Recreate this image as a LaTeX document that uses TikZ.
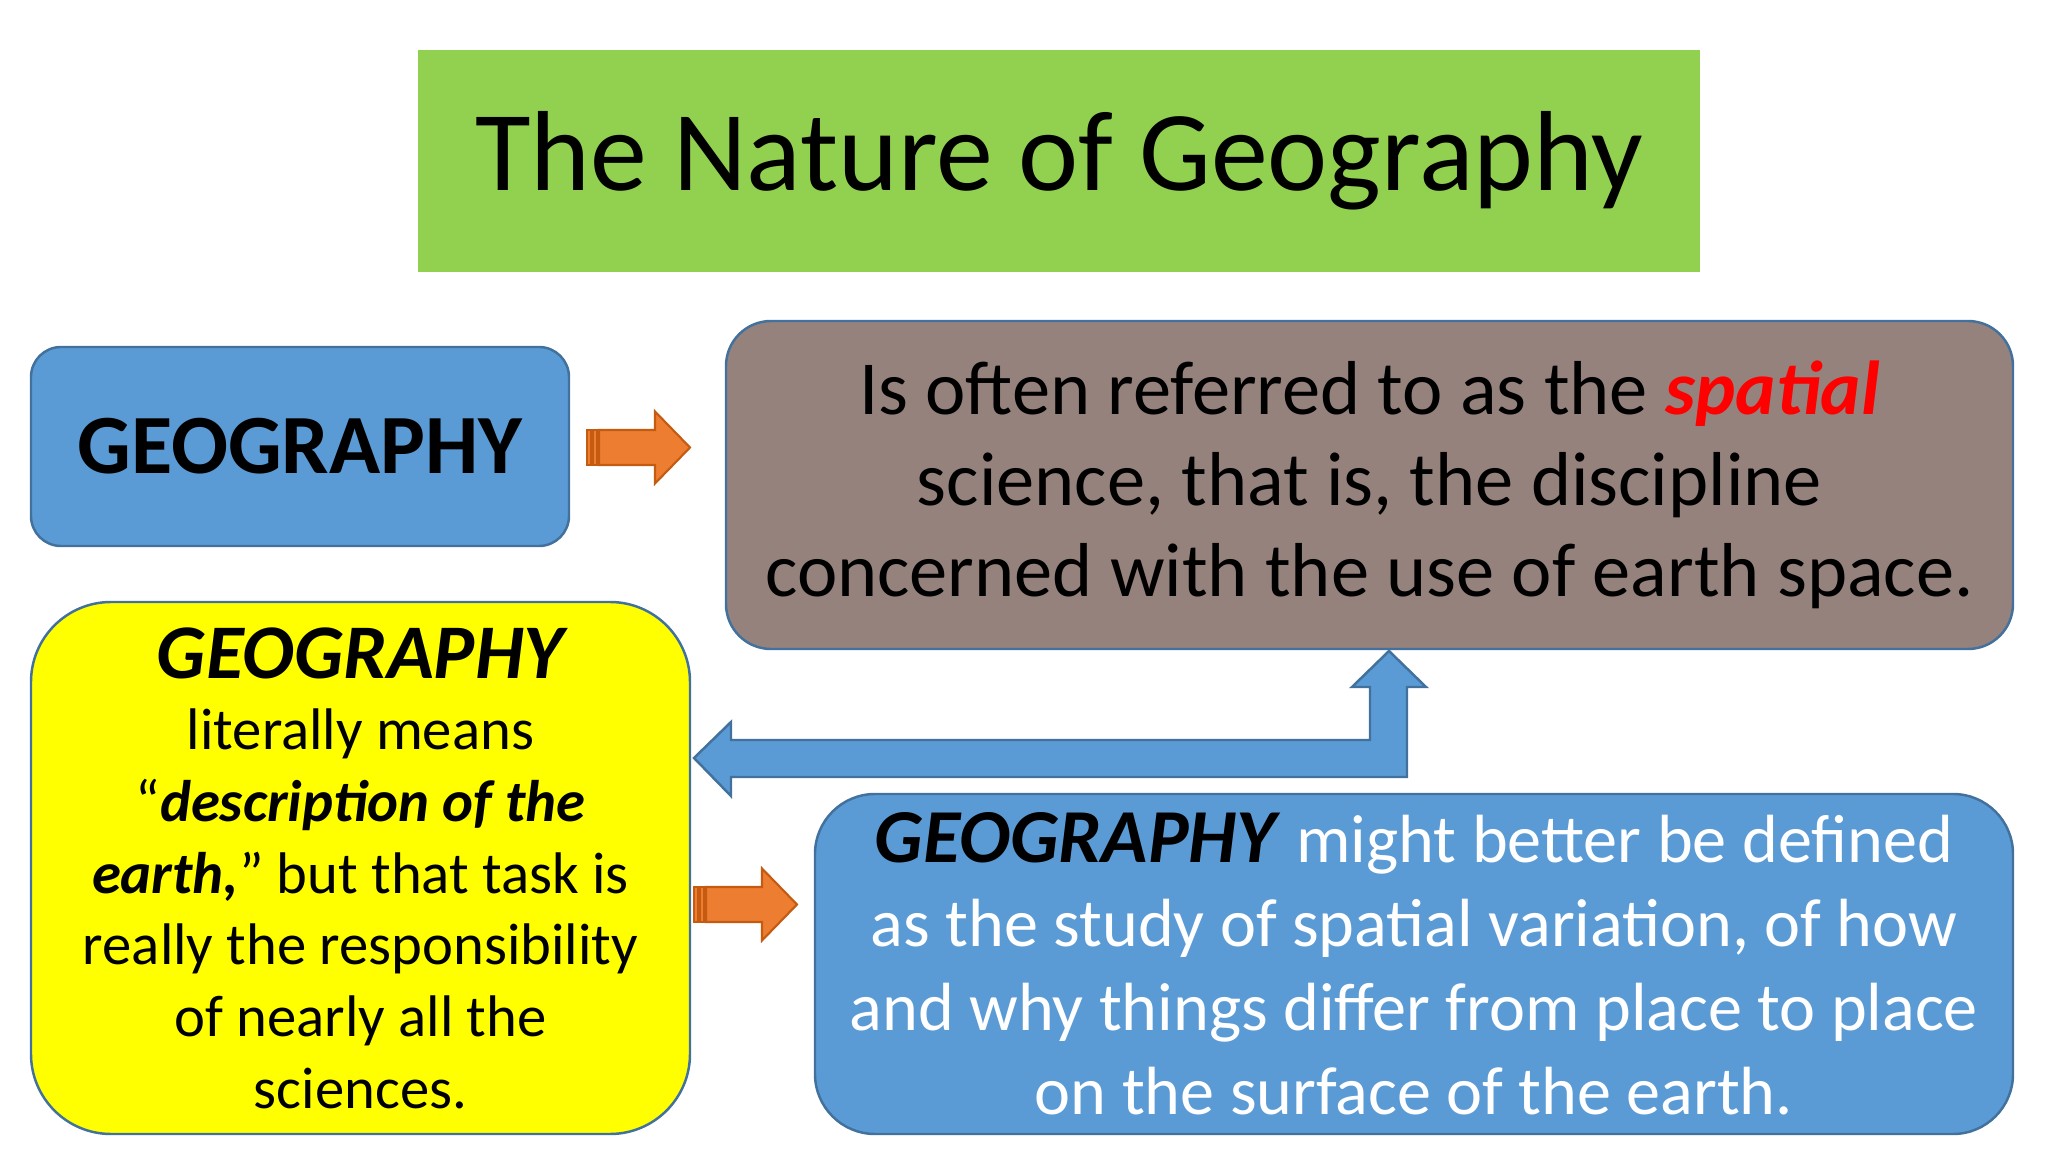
\documentclass[tikz,border=0pt]{standalone}
\usepackage{fontspec}
\setmainfont{Carlito}
\usetikzlibrary{positioning}

\definecolor{titlegreen}{HTML}{92D050}
\definecolor{boxblue}{HTML}{5B9BD5}
\definecolor{edgeblue}{HTML}{41719C}
\definecolor{arroworange}{HTML}{ED7D31}
\definecolor{orangeedge}{HTML}{C55A11}
\definecolor{stonebrown}{RGB}{150,130,124}
\definecolor{spatialred}{HTML}{FF0000}
\definecolor{brightyellow}{HTML}{FFFF00}

\begin{document}
\begin{tikzpicture}[
  box/.style={draw=edgeblue, line width=0.7pt, align=center, inner sep=0pt},
  orangearrow/.style={fill=arroworange, draw=orangeedge, line width=0.6pt},
  bluearrow/.style={fill=boxblue, draw=edgeblue, line width=0.7pt}
]
\useasboundingbox [fill=white] (0,0) rectangle (20.48,-11.52);

\node [fill=titlegreen, minimum width=12.82cm, minimum height=2.22cm, inner sep=0pt, font=\fontsize{32.4}{38}\selectfont] (title) at (10.59,-1.61) {The Nature of Geography};

\node [box, fill=boxblue, rounded corners=0.3cm, minimum width=5.38cm, minimum height=1.99cm, font=\bfseries\fontsize{24}{29}\selectfont] (geo) at (3.00,-4.465) {GEOGRAPHY};

\node [box, fill=stonebrown, rounded corners=0.45cm, minimum width=12.87cm, minimum height=3.28cm, font=\fontsize{21.75}{25.9}\selectfont] (spatial) at (13.695,-4.85) {Is often referred to as the \textcolor{spatialred}{\textbf{\textit{spatial}}}\\ science, that is, the discipline\\ concerned with the use of earth space.};

\node [box, fill=brightyellow, rounded corners=0.8cm, minimum width=6.59cm, minimum height=5.32cm, font=\fontsize{16.7}{20.4}\selectfont] (meaning) at (3.605,-8.68) {{\fontsize{22}{26}\selectfont\bfseries\itshape GEOGRAPHY}\\ literally means\\ “\textbf{\textit{description of the}}\\ \textbf{\textit{earth,}}” but that task is\\ really the responsibility\\ of nearly all the\\ sciences.};

\node [box, fill=boxblue, rounded corners=0.6cm, minimum width=11.98cm, minimum height=3.40cm, text=white, font=\fontsize{19.4}{23.9}\selectfont] (defined) at (14.14,-9.64) {\textcolor{black}{\fontsize{21.7}{23.9}\selectfont\textbf{\textit{GEOGRAPHY}}} might better be defined\\ as the study of spatial variation, of how\\ and why things differ from place to place\\ on the surface of the earth.};

% striped arrows
\foreach \x/\y in {5.87/-4.475, 6.94/-9.045} {
  \draw [orangearrow, shift={(\x,\y)}] (0.12,0.175) -- (0.68,0.175) -- (0.68,0.36) -- (1.03,0) -- (0.68,-0.36) -- (0.68,-0.175) -- (0.12,-0.175) -- cycle;
  \draw [orangearrow, shift={(\x,\y)}] (0,0.175) rectangle (0.04,-0.175);
  \draw [orangearrow, shift={(\x,\y)}] (0.06,0.175) rectangle (0.10,-0.175);
}

% bent arrow back to the yellow box
\draw [bluearrow] (6.94,-7.58) -- (7.31,-7.22) -- (7.31,-7.40) -- (13.70,-7.40) -- (13.70,-6.87) -- (13.52,-6.87) -- (13.89,-6.51) -- (14.26,-6.87) -- (14.07,-6.87) -- (14.07,-7.77) -- (7.31,-7.77) -- (7.31,-7.96) -- cycle;
\end{tikzpicture}
\end{document}
